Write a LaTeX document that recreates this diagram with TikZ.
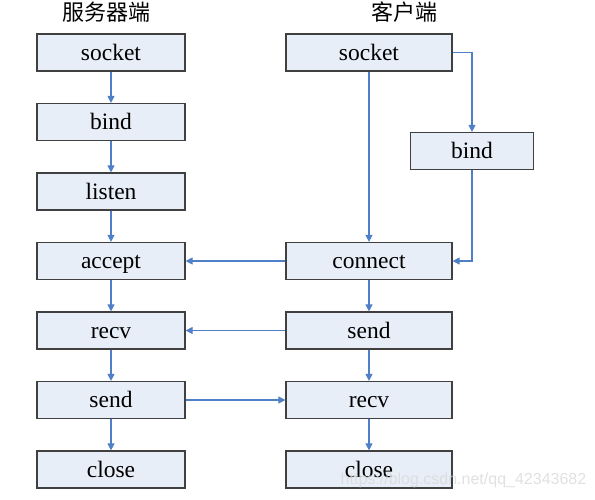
\documentclass[tikz,border=0pt]{standalone}
\usepackage{fontspec}
\setmainfont{Liberation Serif}
\newfontfamily\cjk{Noto Sans CJK SC}
\newfontfamily\wmfont{Liberation Sans}
\usetikzlibrary{positioning,arrows.meta}
\definecolor{boxfill}{HTML}{E8EEF8}
\definecolor{boxline}{HTML}{404040}
\definecolor{arrowblue}{HTML}{4F7FC6}
\begin{document}
\begin{tikzpicture}[x=1pt,y=-1pt,-{Triangle[length=7pt,width=7pt]},
node distance =69.5pt and 258pt ,on grid ,
line width=1.1pt, arrowblue,
call/.style ={ rectangle ,fill =boxfill ,
draw=boxline , line width=1.2pt, text=black , inner sep=0pt,
text height=17pt, text depth=2pt,
minimum height =37pt, font=\fontsize{23.5}{24}\selectfont},
srv/.style ={call, minimum width =148pt},
cli/.style ={call, minimum width =166pt},
title/.style ={text=black, font=\cjk\fontsize{22}{24}\selectfont}]
\useasboundingbox (0,0) rectangle (595,499);
\node[title] (stitle) at (106.5,12) {服务器端};
\node[title] (ctitle) at (404.5,12) {客户端};
\node[srv] (ssocket) at (111,52.5) {socket};
\node[srv] (sbind) [below = of ssocket] {bind};
\node[srv] (slisten) [below = of sbind] {listen};
\node[srv] (saccept) [below = of slisten] {accept};
\node[srv] (srecv) [below = of saccept] {recv};
\node[srv] (ssend) [below = of srecv] {send};
\node[srv] (sclose) [below = of ssend] {close};
\node[cli] (csocket) [right = of ssocket] {socket};
\node[call, minimum width =123pt] (cbind) [below right = 98.5pt and 103pt of csocket] {bind};
\node[cli] (cconnect) [right = of saccept] {connect};
\node[cli] (csend) [right = of srecv] {send};
\node[cli] (crecv) [right = of ssend] {recv};
\node[cli] (cclose) [right = of sclose] {close};
\node[text=gray!30, opacity=0.8, font=\wmfont\fontsize{16}{16}\selectfont] (mark) at (463.5,480) {https://blog.csdn.net/qq\_42343682};
\draw (ssocket) -- (sbind);
\draw (sbind) -- (slisten);
\draw (slisten) -- (saccept);
\draw (saccept) -- (srecv);
\draw (srecv) -- (ssend);
\draw (ssend) -- (sclose);
\draw (csocket) -- (cconnect);
\draw (csocket.east) -| (cbind.north);
\draw (cbind.south) |- (cconnect.east);
\draw (cconnect) -- (csend);
\draw (csend) -- (crecv);
\draw (crecv) -- (cclose);
\draw (cconnect) -- (saccept);
\draw (csend) -- (srecv);
\draw (ssend) -- (crecv);
\end{tikzpicture}
\end{document}
